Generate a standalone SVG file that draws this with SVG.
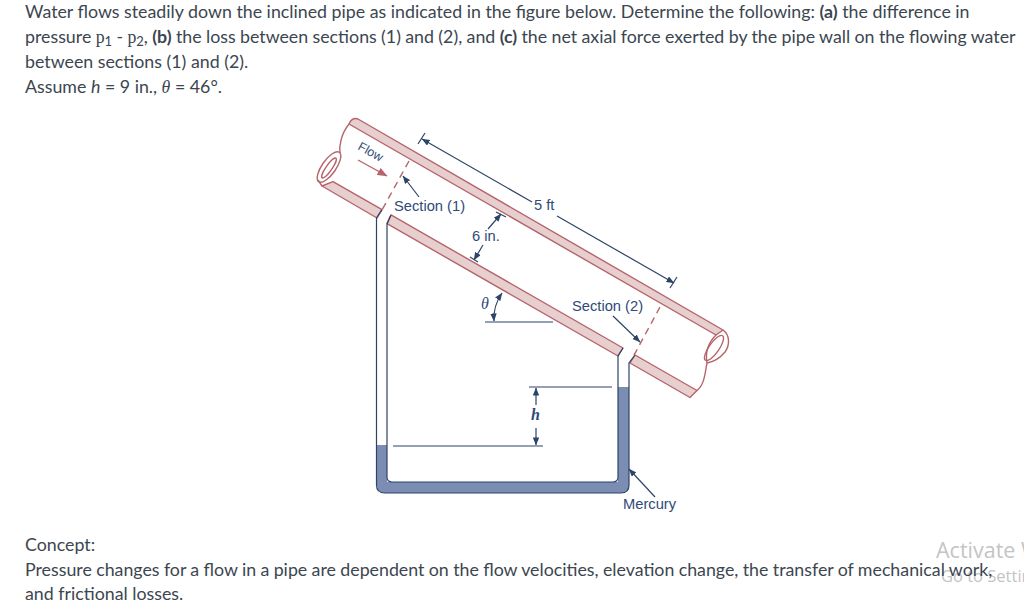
<svg xmlns="http://www.w3.org/2000/svg" width="1024" height="604" viewBox="0 0 1024 604">
<defs>
<marker id="a" viewBox="0 0 10 8" refX="9.500" refY="4" markerWidth="8" markerHeight="6.400" orient="auto-start-reverse" markerUnits="userSpaceOnUse"><path d="M0 0L10 4L0 8z" fill="#2d4468"/></marker>
<marker id="r" viewBox="0 0 10 8" refX="9.500" refY="4" markerWidth="10" markerHeight="8" orient="auto" markerUnits="userSpaceOnUse"><path d="M0 0L10 4L0 8z" fill="#b5646a"/></marker>
</defs>
<style>
.t{font-family:"Lato","Liberation Sans",sans-serif;font-size:17.800px;fill:#3b4650}
.b{font-weight:700}
.s{font-size:13px}
.l{font-family:"Liberation Sans",Arial,sans-serif;font-size:14.700px;fill:#2f4a78}
.d{fill:none;stroke:#2d4468;stroke-width:1.200}
.w{fill:#e8cfcf;stroke:#b5646a;stroke-width:1.400;stroke-linejoin:round}
.c{fill:none;stroke:#b5646a;stroke-width:1.400}
.m{fill:#7b8db3}
.g{font-family:"Open Sans","Liberation Sans",sans-serif;fill:#c4c4c4}
</style>
<rect width="1024" height="604" fill="#fff"/>
<g id="problem-text">
<text class="t" x="25" y="18">Water flows steadily down the inclined pipe as indicated in the figure below. Determine the following: <tspan class="b">(a)</tspan> the difference in</text>
<text class="t" x="25" y="43" word-spacing="-0.200">pressure <tspan font-family="Liberation Serif">p</tspan><tspan class="s" dy="3">1</tspan><tspan dy="-3"> - </tspan><tspan font-family="Liberation Serif">p</tspan><tspan class="s" dy="3">2</tspan><tspan dy="-3">, </tspan><tspan class="b">(b)</tspan> the loss between sections (1) and (2), and <tspan class="b">(c)</tspan> the net axial force exerted by the pipe wall on the flowing water</text>
<text class="t" x="25" y="68">between sections (1) and (2).</text>
<text class="t" x="25" y="93">Assume <tspan font-style="italic">h</tspan> = 9 in., <tspan font-family="Liberation Serif" font-style="italic">θ</tspan> =  46°.</text>
</g>
<g id="pipe">
<path class="w" d="M349 124Q352 117 358 119L723 330L716 335z"/>
<path class="w" d="M333 181.600L382 209.700L377 218L322 186z"/>
<path class="w" d="M391 214.900L623 348L618 356L387 223.600z"/>
<path class="w" d="M635 355L697 390.500L690 397.500L630 363z"/>
<path class="c" d="M349 124C341 134 339 146 340 153"/>
<ellipse class="c" cx="329" cy="167" rx="7" ry="18" transform="rotate(35 329 167)" fill="#fff"/>
<ellipse class="c" cx="329" cy="168" rx="3" ry="12" transform="rotate(35 329 168)"/>
<path class="c" d="M322 186L318 180"/>
<path class="c" d="M723 330C730 335 730 345 725 352C720 358 713 362 707 363C705 372 705 384 697 390.500"/>
<path class="c" d="M716 335C709 342 705 352 707 363"/>
<ellipse class="c" cx="714" cy="348" rx="5" ry="15" transform="rotate(35 714 348)"/>
</g>
<g id="manometer">
<path class="m" d="M377 445H387V482H618V387H629V485Q629 493 621 493H385Q377 493 377 485z"/>
<path class="d" d="M382 209.700L376.500 218V485Q376.500 493 385 493H621Q629 493 629 485V363L635 355"/>
<path class="d" d="M391 214.900L387 224V477Q387 482 392 482H613Q618 482 618 477V356L623 348"/>
</g>
<g id="connectors">
<path class="c" stroke-dasharray="7 5" d="M409 161L382 210"/>
<path class="c" stroke-dasharray="7 5" d="M660 307L633 357"/>
<path class="c" stroke-width="1.600" marker-end="url(#r)" d="M358 160L387 176"/>
<path class="d" marker-end="url(#a)" d="M419 197L403 176"/>
<path class="d" d="M425 133L418 144M677 277L670 288M470 257L478 262M496 212L506 217"/>
<path class="d" marker-start="url(#a)" d="M422 139L532 202"/>
<path class="d" marker-end="url(#a)" d="M557 216L674 283"/>
<path class="d" marker-end="url(#a)" d="M488 229L501 214"/>
<path class="d" marker-end="url(#a)" d="M483 245L474 260"/>
<path class="d" marker-start="url(#a)" marker-end="url(#a)" d="M502 293Q493 306 494 321"/>
<path class="d" stroke-width="1.400" d="M485 322H553"/>
<path class="d" marker-end="url(#a)" d="M613 316L640 342"/>
<path class="d" d="M529 387H612M393 446H543"/>
<path class="d" marker-end="url(#a)" d="M536 405V388"/>
<path class="d" marker-end="url(#a)" d="M536 428V445"/>
<path class="d" marker-end="url(#a)" d="M655 497L629 469"/>
</g>
<g id="labels">
<text class="l" style="font-size:12.500px" transform="translate(357 149) rotate(29)">Flow</text>
<text class="l" x="394" y="211">Section (1)</text>
<text class="l" x="534" y="210">5 ft</text>
<text class="l" x="472" y="241">6 in.</text>
<text class="l" x="481" y="309" style="font-family:'Liberation Serif',serif;font-size:16px" font-style="italic">θ</text>
<text class="l" x="572" y="311">Section (2)</text>
<text class="l" x="531" y="420" style="font-family:'Liberation Serif',serif;font-size:16px;font-weight:700" font-style="italic">h</text>
<text class="l" x="623" y="509">Mercury</text>
</g>
<g id="concept-text">
<text class="g" x="936" y="558" font-size="21.500">Activate W</text>
<text class="t" x="25" y="551">Concept:</text>
<text class="g" x="941" y="582" font-size="16.500">Go to Settings</text>
<text class="t" x="25" y="576" word-spacing="-0.200">Pressure changes for a flow in a pipe are dependent on the flow velocities, elevation change, the transfer of mechanical work,</text>
<text class="t" x="25" y="600">and frictional losses.</text>
</g>
</svg>
